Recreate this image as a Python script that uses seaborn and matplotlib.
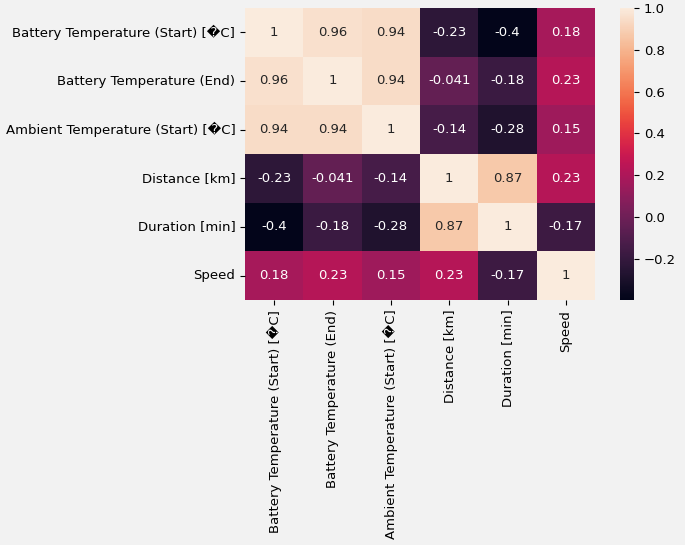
import matplotlib
matplotlib.use('Agg')

import matplotlib.pyplot as plt
import numpy as np
import pandas as pd
import seaborn as sns

# Data
labels = [
    "Battery Temperature (Start) [\ufffdC]",
    "Battery Temperature (End)",
    "Ambient Temperature (Start) [\ufffdC]",
    "Distance [km]",
    "Duration [min]",
    "Speed",
]
row_bat_start = [1, 0.96, 0.94, -0.23, -0.397, 0.18]
row_bat_end = [0.96, 1, 0.94, -0.041, -0.18, 0.23]
row_amb_start = [0.94, 0.94, 1, -0.14, -0.28, 0.15]
row_distance = [-0.23, -0.041, -0.14, 1, 0.87, 0.23]
row_duration = [-0.397, -0.18, -0.28, 0.87, 1, -0.17]
row_speed = [0.18, 0.23, 0.15, 0.23, -0.17, 1]

corr = pd.DataFrame(
    [row_bat_start, row_bat_end, row_amb_start, row_distance, row_duration, row_speed],
    index=labels, columns=labels,
)

bg = "#f2f2f2"
fs = 9.5
plt.rcParams['font.size'] = fs

fig = plt.figure(figsize=(6.85, 5.45), dpi=100, facecolor=bg)
ax = fig.add_axes([245 / 685, 1 - 300 / 545, 350 / 685, 292 / 545])
cax = fig.add_axes([620 / 685, 1 - 300 / 545, 14 / 685, 292 / 545])

sns.heatmap(corr, annot=True, ax=ax, cbar_ax=cax, annot_kws={"size": fs})
ax.tick_params(labelsize=fs)
cax.tick_params(labelsize=fs)

plt.savefig("out.png", dpi=100, facecolor=bg)
